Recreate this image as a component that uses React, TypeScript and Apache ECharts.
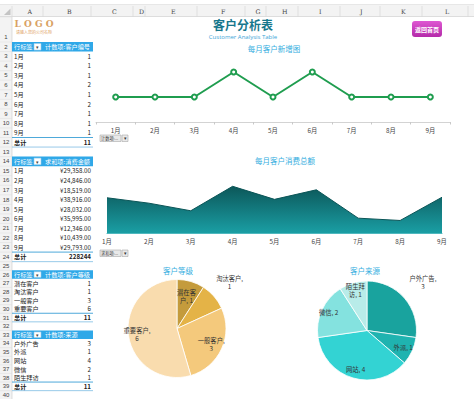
import React, { useEffect, useRef } from 'react';
import * as echarts from 'echarts';

// ---- data ----
const months = ['1月', '2月', '3月', '4月', '5月', '6月', '7月', '8月', '9月'];
const newCustomers = [1, 1, 1, 2, 1, 2, 1, 1, 1];
const spending = [29358, 24846, 18519, 38916, 28032, 35995, 12346, 10439, 29793];
const levelNames = ['潜在客户', '淘汰客户', '一般客户', '重要客户'];
const levelCounts = [1, 1, 3, 6];
const sourceNames = ['户外广告', '外派', '网站', '微信', '陌生拜访'];
const sourceCounts = [3, 1, 4, 2, 1];
const columnLetters = ['A', 'B', 'C', 'D', 'E', 'F', 'G', 'H', 'I', 'J', 'K', 'L'];

const FONT = "'Noto Sans CJK SC', 'Noto Sans', sans-serif";
const colBounds = [12, 43, 91, 133, 145, 197, 245, 266, 298, 340, 380, 422, 468];
const levelColors = ['#c49b3c', '#e4b347', '#f4c97c', '#f9dcae'];
const sourceColors = ['#19a39e', '#1fb3b0', '#33d3d3', '#84e2df', '#b8ece9'];
const levelLabelDist = [30, 62, 33.5, 36];
const sourceLabelDist = [66, 35.5, 36, 37.7, 37];

const sum = (a: number[]) => a.reduce((s, v) => s + v, 0);
const fmtMoney = (v: number) => '¥' + v.toFixed(2).replace(/\B(?=(\d{3})+(?!\d))/g, ',');

function rowTop(n: number) {
  if (n === 1) return 17;
  if (n <= 25) return 42 + (n - 2) * 9.55;
  return 261.65 + (n - 25) * 8.6;
}
function rowH(n: number) {
  if (n === 1) return 25;
  if (n <= 24) return 9.55;
  return 8.6;
}
const rc = (n: number) => rowTop(n) + rowH(n) / 2;

function txt(text: string, x: number, y: number, o: any = {}) {
  const align = o.align || 'left';
  return {
    type: 'text',
    x,
    y,
    silent: true,
    z: 10,
    style: {
      text,
      fill: o.color || '#333',
      font: `${o.bold ? 'bold ' : ''}${o.size || 6.5}px ${o.family || FONT}`,
      align,
      textAlign: align,
      verticalAlign: 'middle',
      textVerticalAlign: 'middle',
    },
  };
}
function rect(x: number, y: number, w: number, h: number, fill: any, stroke?: string, r = 0) {
  return {
    type: 'rect',
    silent: true,
    shape: { x, y, width: w, height: h, r },
    style: { fill, stroke: stroke || null, lineWidth: stroke ? 0.6 : 0 },
  };
}
function line(x1: number, y1: number, x2: number, y2: number, color: string, w = 1) {
  return { type: 'line', silent: true, shape: { x1, y1, x2, y2 }, style: { stroke: color, lineWidth: w } };
}

function pieLabel(name: string, value: number) {
  if (name === '潜在客户' || name === '陌生拜访') return name.slice(0, 3) + '\n' + name.slice(3) + ', ' + value;
  if (name.length >= 4) return name + ',\n' + value;
  return name + ', ' + value;
}

function buildGraphics() {
  const g: any[] = [];
  // top strip & column header
  g.push(rect(0, 0, 474, 5, '#ffffff'));
  g.push(line(0, 4.5, 474, 4.5, '#d6d6d6', 0.6));
  g.push(rect(0, 5, 474, 11.5, '#f3f3f3'));
  g.push(line(0, 16.5, 474, 16.5, '#c9c9c9', 0.6));
  g.push({ type: 'polygon', silent: true, shape: { points: [[4, 15], [10.5, 15], [10.5, 8.5]] }, style: { fill: '#c4c4c4' } });
  colBounds.forEach((b) => g.push(line(b, 6, b, 16.5, '#d4d4d4', 0.6)));
  columnLetters.forEach((c, i) => {
    g.push(txt(c, (colBounds[i] + colBounds[i + 1]) / 2, 11, { size: 6.3, color: '#444', family: "'DejaVu Serif', serif" }));
  });
  // row header column
  g.push(rect(0, 17, 12, 382, '#f3f3f3'));
  g.push(line(12, 17, 12, 399, '#c9c9c9', 0.6));
  for (let n = 1; n <= 40; n++) {
    g.push(line(0, rowTop(n), 12, rowTop(n), '#dddddd', 0.5));
    g.push(txt(String(n), 6, n === 1 ? 37 : rc(n), { size: 6, color: '#444', align: 'center', family: "'Liberation Sans', sans-serif" }));
  }
  // logo
  g.push(txt('L O G O', 34, 23.5, { size: 9, bold: true, color: '#d9a264', align: 'center', family: "'DejaVu Serif', serif" }));
  g.push(txt('请输入您的公司名称', 34, 31.5, { size: 4, color: '#e0a060', align: 'center' }));

  // pivot tables
  const tables = [
    { headerRow: 2, header: '计数项:客户编号', labels: months, values: newCustomers.map(String), total: String(sum(newCustomers)) },
    { headerRow: 14, header: '求和项:消费金额', labels: months, values: spending.map(fmtMoney), total: String(sum(spending)) },
    { headerRow: 26, header: '计数项:客户等级', labels: levelNames, values: levelCounts.map(String), total: String(sum(levelCounts)) },
    { headerRow: 33, header: '计数项:来源', labels: sourceNames, values: sourceCounts.map(String), total: String(sum(sourceCounts)) },
  ];
  tables.forEach((t) => {
    const hr = t.headerRow;
    g.push(rect(12, rowTop(hr), 81, rowH(hr), '#2fa8e8'));
    g.push(txt('行标签', 14, rc(hr), { color: '#ffffff', size: 6.2 }));
    g.push(rect(34, rowTop(hr) + 1.5, 7, rowH(hr) - 3, '#ffffff', '#9ccbe8'));
    g.push(txt('▾', 37.5, rc(hr), { color: '#444', size: 5, align: 'center' }));
    g.push(txt(t.header, 45, rc(hr), { color: '#ffffff', size: 6.2 }));
    t.labels.forEach((lab, i) => {
      const r = hr + 1 + i;
      g.push(txt(lab, 14, rc(r), { size: 6.2, color: '#222' }));
      g.push(txt(t.values[i], 91, rc(r), { size: 6.2, color: '#222', align: 'right' }));
    });
    const tr = hr + 1 + t.labels.length;
    g.push(line(12, rowTop(tr), 93, rowTop(tr), '#3a9fd6', 0.9));
    g.push(line(12, rowTop(tr) + rowH(tr), 93, rowTop(tr) + rowH(tr), '#8cc4e6', 0.9));
    g.push(txt('总计', 14, rc(tr), { size: 6.2, bold: true, color: '#222' }));
    g.push(txt(t.total, 91, rc(tr), { size: 6.2, bold: true, color: '#222', align: 'right' }));
  });

  // titles
  g.push(txt('客户分析表', 243, 24, { size: 12, bold: true, color: '#17778c', align: 'center' }));
  g.push(txt('Customer Analysis Table', 243, 37.2, { size: 6, color: '#3ea6d8', align: 'center', family: "'Open Sans', sans-serif" }));
  g.push(txt('每月客户新增图', 274, 48.5, { size: 7.5, color: '#34aee0', align: 'center' }));
  g.push(txt('每月客户消费总额', 285, 160, { size: 7.5, color: '#34aee0', align: 'center' }));
  g.push(txt('客户等级', 178, 270, { size: 7.5, color: '#34aee0', align: 'center' }));
  g.push(txt('客户来源', 365, 270, { size: 7.5, color: '#34aee0', align: 'center' }));

  // return button
  g.push(rect(412, 21, 30, 16, new echarts.graphic.LinearGradient(0, 0, 0, 1, [
    { offset: 0, color: '#de58d2' },
    { offset: 1, color: '#b42aa9' },
  ]), undefined, 3));
  g.push(txt('返回首页', 427, 29, { size: 6, bold: true, color: '#ffffff', align: 'center' }));

  // pivot chart field buttons
  g.push(rect(100, 135, 21, 6.5, '#e9e9e9', '#a8a8a8'));
  g.push(txt('计数项:...', 101, 138.3, { size: 4.2, color: '#333' }));
  g.push(rect(122, 135, 6, 6.5, '#e9e9e9', '#a8a8a8'));
  g.push(txt('▾', 125, 138.3, { size: 4.5, color: '#333', align: 'center' }));
  g.push(rect(100, 250, 21, 6.5, '#e9e9e9', '#a8a8a8'));
  g.push(txt('求和项:...', 101, 253.3, { size: 4.2, color: '#333' }));
  g.push(rect(122, 250, 6, 6.5, '#e9e9e9', '#a8a8a8'));
  g.push(txt('▾', 125, 253.3, { size: 4.5, color: '#333', align: 'center' }));
  return g;
}

function makePie(names: string[], values: number[], colors: string[], center: [number, number], r: number, dists: number[]) {
  return {
    type: 'pie',
    center,
    radius: r,
    startAngle: 90,
    clockwise: true,
    silent: true,
    emphasis: { disabled: true },
    data: names.map((n, i) => ({ name: n, value: values[i], itemStyle: { color: colors[i] } })),
    itemStyle: { borderColor: '#ffffff', borderWidth: 0.8 },
    label: {
      position: 'inside',
      color: '#333',
      fontSize: 6.3,
      lineHeight: 8,
      fontFamily: FONT,
      align: 'center',
      formatter: (p: any) => pieLabel(p.name, p.value),
    },
    labelLine: { show: false },
    labelLayout: (p: any) => {
      const lr = p.labelRect;
      const lx = lr.x + lr.width / 2;
      const ly = lr.y + lr.height / 2;
      const k = dists[p.dataIndex] / (r * 0.5);
      return { dx: (lx - center[0]) * (k - 1), dy: (ly - center[1]) * (k - 1) };
    },
  };
}

export default function App() {
  const ref = useRef<HTMLDivElement>(null);
  useEffect(() => {
    document.body.style.margin = '0';
    const chart = echarts.init(ref.current!, undefined, { renderer: 'svg' });
    const option: any = {
      animation: false,
      backgroundColor: '#ffffff',
      graphic: { elements: buildGraphics() },
      grid: [
        { left: 96, right: 24, top: 47, bottom: 277, outerBoundsMode: 'none' },
        { left: 107, right: 32, top: 185, bottom: 166, outerBoundsMode: 'none' },
      ],
      xAxis: [
        {
          type: 'category', gridIndex: 0, data: months, boundaryGap: true,
          axisLine: { lineStyle: { color: '#c8c8c8', width: 0.8 } },
          axisTick: { show: true, length: 2.5, lineStyle: { color: '#c8c8c8' } },
          axisLabel: { fontSize: 6.3, color: '#444', margin: 5, fontFamily: FONT },
        },
        {
          type: 'category', gridIndex: 1, data: months, boundaryGap: false,
          axisLine: { lineStyle: { color: '#4fb8be', width: 1 } },
          axisTick: { show: false },
          axisLabel: { fontSize: 6.3, color: '#444', margin: 5, fontFamily: FONT },
        },
      ],
      yAxis: [
        { type: 'value', gridIndex: 0, min: 0, max: 3, show: false, splitLine: { show: false } },
        { type: 'value', gridIndex: 1, min: 0, max: 40000, show: false, splitLine: { show: false } },
      ],
      series: [
        {
          type: 'line', xAxisIndex: 0, yAxisIndex: 0, data: newCustomers,
          symbol: 'emptyCircle', symbolSize: 5, silent: true,
          lineStyle: { color: '#1f9d4f', width: 2 },
          itemStyle: { color: '#1f9d4f', borderWidth: 1 },
        },
        {
          type: 'line', xAxisIndex: 1, yAxisIndex: 1, data: spending,
          symbol: 'none', silent: true,
          lineStyle: { color: '#0b5557', width: 1 },
          areaStyle: {
            opacity: 1,
            color: new echarts.graphic.LinearGradient(0, 0, 0, 1, [
              { offset: 0, color: '#0c5759' },
              { offset: 1, color: '#1a9ea4' },
            ]),
          },
        },
        makePie(levelNames, levelCounts, levelColors, [177, 328.5], 49, levelLabelDist),
        makePie(sourceNames, sourceCounts, sourceColors, [367, 330.5], 49.5, sourceLabelDist),
      ],
    };
    chart.setOption(option);
    return () => chart.dispose();
  }, []);
  return <div ref={ref} style={{ width: 474, height: 399 }} />;
}
